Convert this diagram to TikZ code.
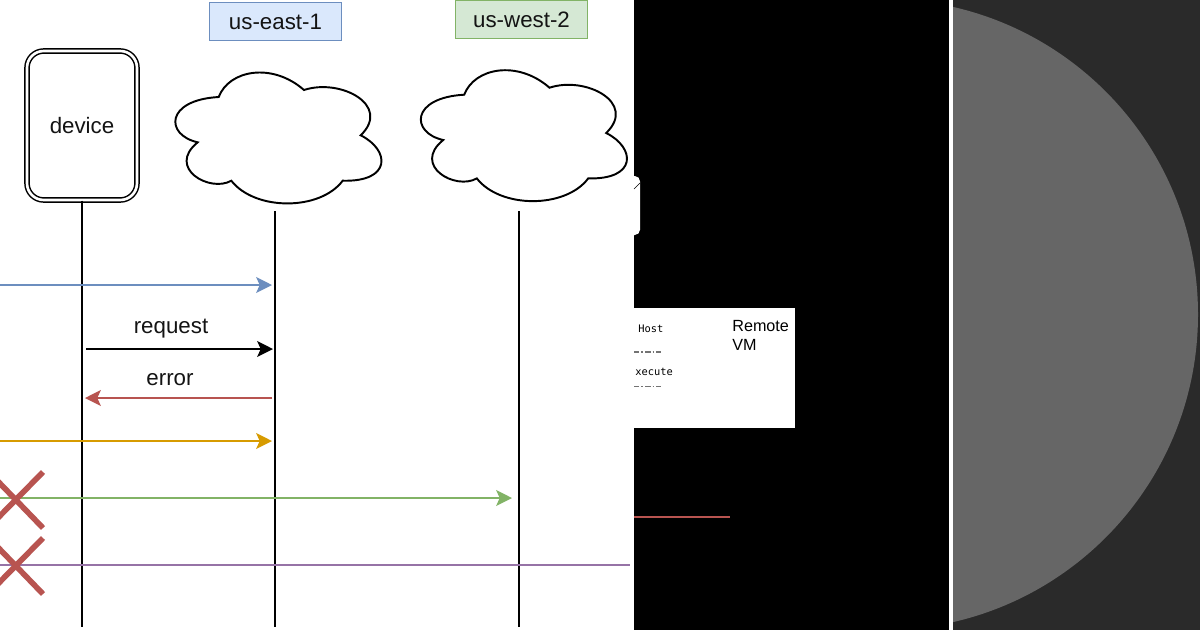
\documentclass[tikz,border=0pt]{standalone}
\usepackage{fontspec}
\setmainfont{Liberation Sans}
\newfontfamily\termfont{DejaVu Sans Mono}
\usetikzlibrary{arrows.meta}

\definecolor{blueline}{HTML}{6C8EBF}
\definecolor{bluefill}{HTML}{DAE8FC}
\definecolor{greenline}{HTML}{82B366}
\definecolor{greenfill}{HTML}{D5E8D4}
\definecolor{redline}{HTML}{B85450}
\definecolor{yellowline}{HTML}{D79B00}
\definecolor{purpleline}{HTML}{9673A6}
\definecolor{darkpane}{HTML}{2A2A2A}
\definecolor{discgray}{HTML}{666666}

\tikzset{
    label text/.style={font=\fontsize{12.7}{15}\selectfont, text=black!92},
    region/.style={rectangle, line width=1.1pt, minimum width=2.64cm, minimum height=.76cm, label text},
    lifeline/.style={line width=1.1pt, black},
    msg/.style={line width=1.1pt, -{Stealth[length=9pt, width=9pt, inset=2pt]}},
    cross/.style={line width=3.2pt, redline},
    cloudpic/.pic={
        \draw [line width=1.1pt, fill=white] (218.7, 97)
            .. controls (229, 70) and (272, 62) .. (304, 90)
            .. controls (340, 78) and (392, 105) .. (360.7, 135.3)
            .. controls (390, 150) and (392, 182) .. (342.7, 180.7)
            .. controls (320, 211) and (255, 211) .. (231.3, 180.7)
            .. controls (210, 193) and (166, 168) .. (197.7, 142.3)
            .. controls (165, 135) and (165, 100) .. (218.7, 97) -- cycle;
    }
}

\begin{document}
\begin{tikzpicture}[x=.02cm, y=-.02cm]
    \clip (0, 0) rectangle (1200, 630);
    \fill [white] (0, 0) rectangle (1200, 630);

    % diagram
    \node (Dev) at (82, 125.5) [rectangle, draw=black, rounded corners=9.5pt, line width=.85pt,
    double, double distance=1.5pt, minimum width=2.2cm, minimum height=2.98cm, label text] {device};
    \node (East) at (275.5, 21.5) [region, draw=blueline, fill=bluefill] {us-east-1};
    \node (West) at (521.5, 19.5) [region, draw=greenline, fill=greenfill] {us-west-2};
    \pic at (0, 0) {cloudpic};
    \pic at (245.5, -2.3) {cloudpic};

    \coordinate (DevEnd) at (82, 627);
    \coordinate (EastTop) at (275, 211);
    \coordinate (EastEnd) at (275, 627);
    \coordinate (WestTop) at (519, 211);
    \coordinate (WestEnd) at (519, 627);
    \draw [lifeline] (Dev.south) -- (DevEnd);
    \draw [lifeline] (EastTop) -- (EastEnd);
    \draw [lifeline] (WestTop) -- (WestEnd);

    \coordinate (B1) at (0, 285);
    \coordinate (B2) at (272, 285);
    \coordinate (R1) at (86, 349);
    \coordinate (R2) at (273, 349);
    \coordinate (E1) at (272, 398);
    \coordinate (E2) at (85, 398);
    \coordinate (Y1) at (0, 441);
    \coordinate (Y2) at (272, 441);
    \coordinate (G1) at (0, 498);
    \coordinate (G2) at (512, 498);
    \coordinate (P1) at (0, 564.8);
    \coordinate (P2) at (630, 564.8);

    \draw [msg, blueline] (B1) -- (B2);
    \draw [msg, black] (R1) -- (R2);
    \draw [msg, redline] (E1) -- (E2);
    \draw [msg, yellowline] (Y1) -- (Y2);
    \draw [msg, greenline] (G1) -- (G2);
    \draw [line width=1.1pt, purpleline] (P1) -- (P2);
    \node (Req) at (171, 328.5) [label text] {request};
    \node (Err) at (170, 380) [label text] {error};

    \draw [cross] (-12, 528) -- (43, 472);
    \draw [cross] (-12, 471) -- (43, 528);
    \draw [cross] (-12, 594) -- (43, 538);
    \draw [cross] (-12, 537) -- (43, 594);

    % black pane
    \fill [black] (634, 0) rectangle (949, 630);
    \fill [white, rounded corners=3pt] (625, 176) rectangle (640, 235);
    \draw [black, line width=.3pt] (634, 189) -- (640, 183);

    \fill [white] (634, 308) rectangle (795, 428);
    \node (Host) at (638, 328.5) [anchor=west, inner sep=0pt,
    font=\termfont\fontsize{5.9}{7}\selectfont] {Host};
    \node (Exec) at (635, 371.5) [anchor=west, inner sep=0pt,
    font=\termfont\fontsize{5.9}{7}\selectfont] {xecute};
    \draw [black!55, line width=.6pt, dash pattern=on 3pt off 1.2pt on 1pt off 1.2pt] (634, 352) -- (661, 352);
    \draw [black!55, line width=.6pt, dash pattern=on 3pt off 1.2pt on 1pt off 1.2pt] (634, 386.5) -- (661, 386.5);
    \node (Remote) at (732, 335.5) [anchor=west, inner sep=0pt, align=left,
    font=\fontsize{9.2}{10.8}\selectfont] {Remote\\VM};
    \coordinate (L1) at (634, 517);
    \coordinate (L2) at (730, 517);
    \draw [redline, line width=.7pt] (L1) -- (L2);

    % dark pane
    \fill [darkpane] (953, 0) rectangle (1200, 630);
    \begin{scope}
        \clip (953, 0) rectangle (1200, 630);
        \fill [discgray] (882.5, 314.5) circle (315.5);
    \end{scope}
\end{tikzpicture}
\end{document}
